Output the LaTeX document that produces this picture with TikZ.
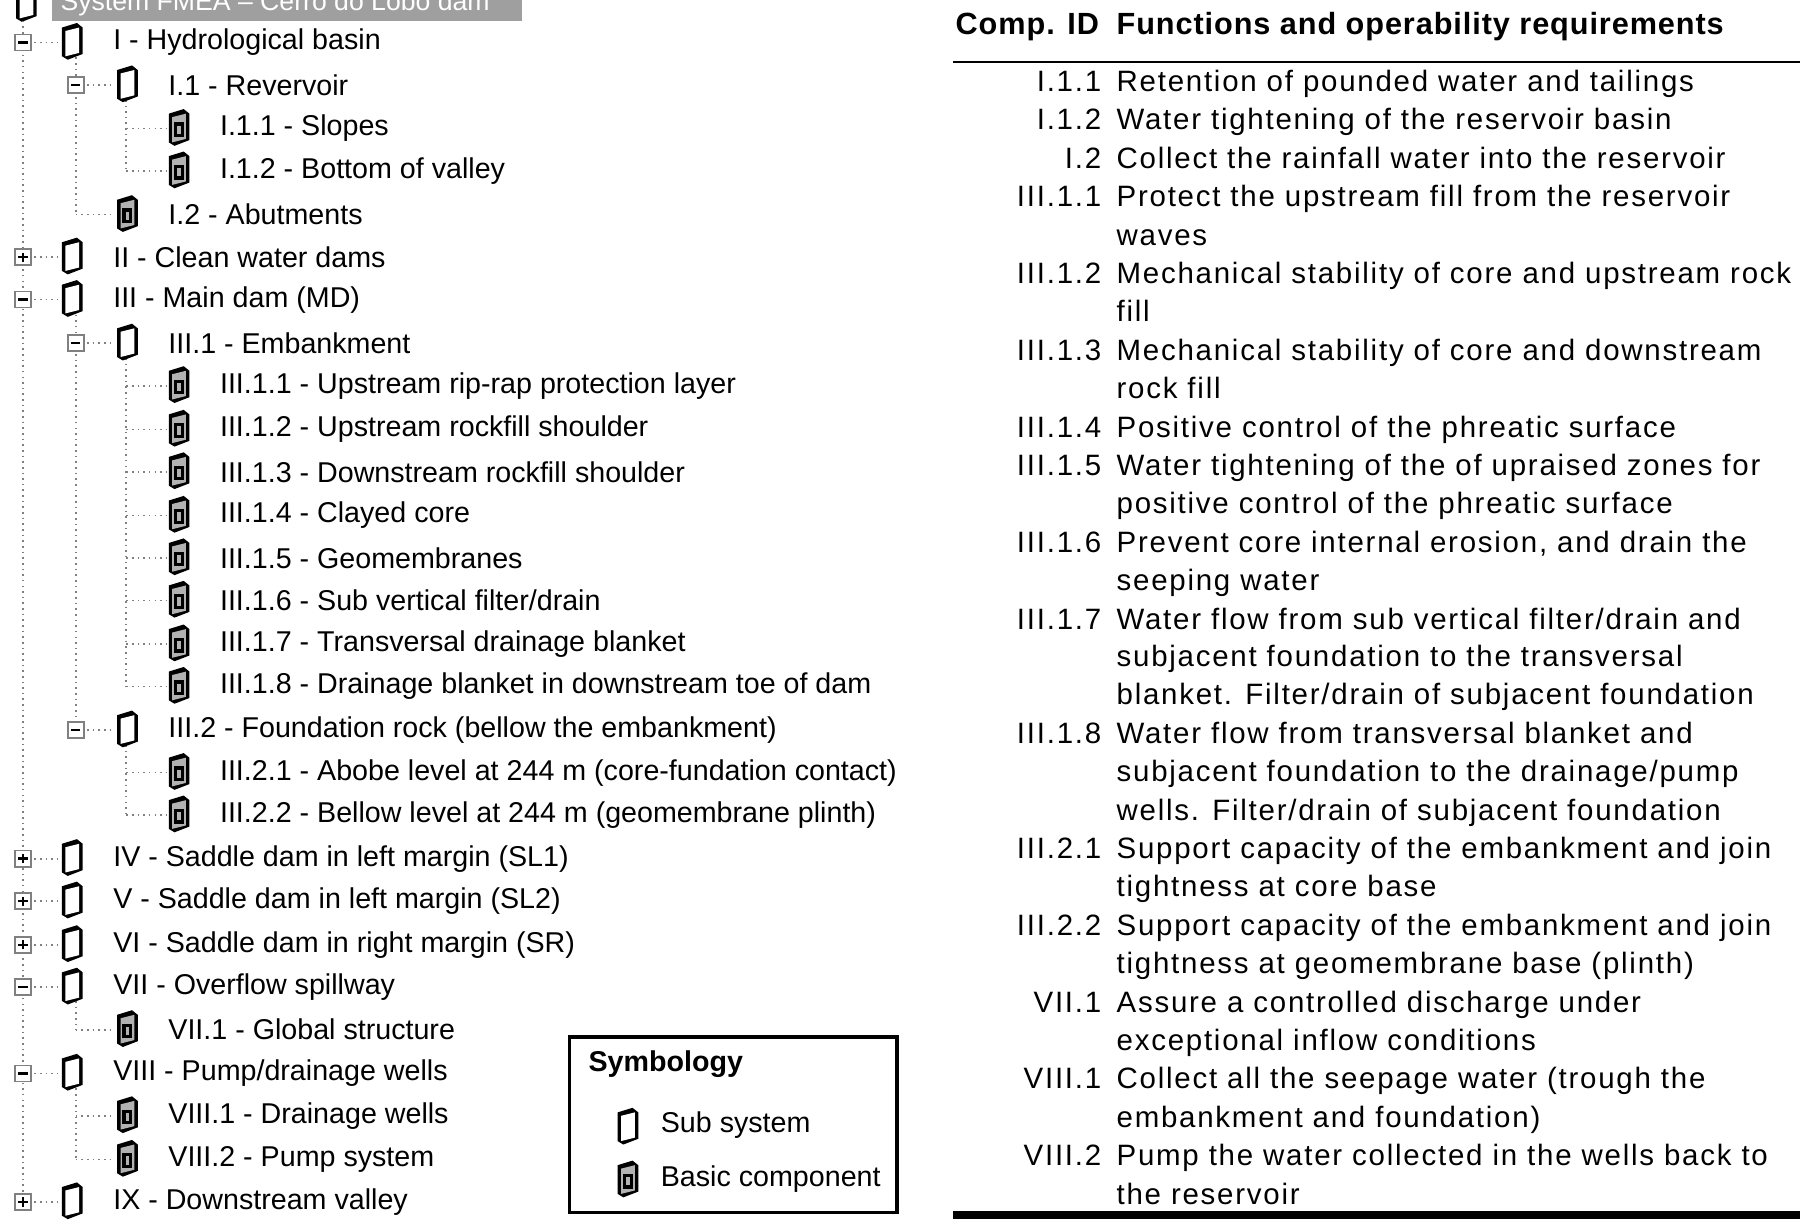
\documentclass[tikz,border=0pt]{standalone}
\usepackage{fontspec}
\setmainfont{Liberation Sans}
\newfontfamily\tabfont[LetterSpace=6]{Liberation Sans}
\newfontfamily\hdfont[LetterSpace=3]{Liberation Sans}
\begin{document}
\begin{tikzpicture}[x=0.1mm,y=-0.1mm,
  lbl/.style={anchor=west,inner sep=0pt,font=\fontsize{7.1pt}{9pt}\selectfont},
  tl/.style={anchor=base west,inner sep=0pt,font=\tabfont\fontsize{7.3pt}{9pt}\selectfont},
  tid/.style={anchor=base east,inner sep=0pt,font=\tabfont\fontsize{7.3pt}{9pt}\selectfont},
  dl/.style={gray,densely dotted,line width=0.4pt},
  subsys/.pic={\fill[black] (-8,-13)--(5,-17)--(10,-13)--(10,10)--(-3,15)--(-8,12)--cycle;
     \fill[white] (-5,-10)--(7,-13)--(7,9)--(-5,12)--cycle;},
  basic/.pic={\fill[black] (-8,-13)--(5,-17)--(10,-13)--(10,10)--(-3,15)--(-8,12)--cycle;
     \fill[gray!60] (-5,-10)--(7,-13)--(7,9)--(-5,12)--cycle;
     \draw[black,line width=0.8pt] (-2,-4) rectangle (4,6);},
  expm/.pic={\draw[gray,fill=white] (-7,-7) rectangle (7,7);\draw[black,line width=0.6pt](-4,0)--(4,0);},
  expp/.pic={\draw[gray,fill=white] (-7,-7) rectangle (7,7);\draw[black,line width=0.6pt](-4,0)--(4,0)(0,-4)--(0,4);}
]
\useasboundingbox (0,0) rectangle (1568,1066);
\begin{scope}
\clip (0,0) rectangle (1568,1066);
\fill[gray!75] (45,-20) rectangle (455,18);
\node[lbl,text=white,font=\fontsize{6.6pt}{9pt}\selectfont] (root) at (52,3) {System FMEA – Cerro do Lobo dam};
\pic at (22,4) {subsys};
\end{scope}
% tree lines
\draw[dl] (20,18)--(20,1040);
\draw[dl] (66,50)--(66,187) (110,87)--(110,149);
\draw[dl] (66,274)--(66,636) (110,312)--(110,598) (110,649)--(110,710);
\draw[dl] (66,872)--(66,897) (66,948)--(66,1010);
\foreach \y in {37,224,261,748,785,823,860,935,1047}{\draw[dl](20,\y)--(52,\y);}
\foreach \y in {74,187,299,636,897,972,1010}{\draw[dl](66,\y)--(100,\y);}
\foreach \y in {112,149,336,374,411,449,486,523,561,598,673,710}{\draw[dl](110,\y)--(145,\y);}
\newcommand{\trow}[5]{%
  \ifcase#2\or\def\ix{62}\or\def\ix{110}\or\def\ix{155}\fi
  \pic at (\ix,#1) {#3};
  \node[lbl] (#5) at (\ix+36,#1) {#4};}
\trow{37}{1}{subsys}{I - Hydrological basin}{n1}
\trow{74}{2}{subsys}{I.1 - Revervoir}{n11}
\trow{112}{3}{basic}{I.1.1 - Slopes}{n111}
\trow{149}{3}{basic}{I.1.2 - Bottom of valley}{n112}
\trow{187}{2}{basic}{I.2 - Abutments}{n12}
\trow{224}{1}{subsys}{II - Clean water dams}{n2}
\trow{261}{1}{subsys}{III - Main dam (MD)}{n3}
\trow{299}{2}{subsys}{III.1 - Embankment}{n31}
\trow{336}{3}{basic}{III.1.1 - Upstream rip-rap protection layer}{n311}
\trow{374}{3}{basic}{III.1.2 - Upstream rockfill shoulder}{n312}
\trow{411}{3}{basic}{III.1.3 - Downstream rockfill shoulder}{n313}
\trow{449}{3}{basic}{III.1.4 - Clayed core}{n314}
\trow{486}{3}{basic}{III.1.5 - Geomembranes}{n315}
\trow{523}{3}{basic}{III.1.6 - Sub vertical filter/drain}{n316}
\trow{561}{3}{basic}{III.1.7 - Transversal drainage blanket}{n317}
\trow{598}{3}{basic}{III.1.8 - Drainage blanket in downstream toe of dam}{n318}
\trow{636}{2}{subsys}{III.2 - Foundation rock (bellow the embankment)}{n32}
\trow{673}{3}{basic}{III.2.1 - Abobe level at 244 m (core-fundation contact)}{n321}
\trow{710}{3}{basic}{III.2.2 - Bellow level at 244 m (geomembrane plinth)}{n322}
\trow{748}{1}{subsys}{IV - Saddle dam in left margin (SL1)}{n4}
\trow{785}{1}{subsys}{V - Saddle dam in left margin (SL2)}{n5}
\trow{823}{1}{subsys}{VI - Saddle dam in right margin (SR)}{n6}
\trow{860}{1}{subsys}{VII - Overflow spillway}{n7}
\trow{897}{2}{basic}{VII.1 - Global structure}{n71}
\trow{935}{1}{subsys}{VIII - Pump/drainage wells}{n8}
\trow{972}{2}{basic}{VIII.1 - Drainage wells}{n81}
\trow{1010}{2}{basic}{VIII.2 - Pump system}{n82}
\trow{1047}{1}{subsys}{IX - Downstream valley}{n9}
\foreach \y in {37,261,860,935}{\pic at (20,\y) {expm};}
\foreach \y in {224,748,785,823,1047}{\pic at (20,\y) {expp};}
\foreach \y in {74,299,636}{\pic at (66,\y) {expm};}
% legend
\node[draw,line width=0.8pt,minimum width=285*0.1mm,minimum height=153*0.1mm,anchor=north west] (leg) at (495,902) {};
\node[lbl,font=\fontsize{7.1pt}{9pt}\selectfont\bfseries] (legt) at (512,927) {Symbology};
\pic at (546,982) {subsys};
\node[lbl] (ls) at (575,980) {Sub system};
\pic at (546,1028) {basic};
\node[lbl] (lb) at (575,1027) {Basic component};
% table
\node[tid,font=\hdfont\fontsize{7.6pt}{9pt}\selectfont\bfseries] (h1) at (958,30) {Comp. ID};
\node[tl,font=\hdfont\fontsize{7.6pt}{9pt}\selectfont\bfseries] (h2) at (972,30) {Functions and operability requirements};
\draw[line width=0.6pt] (830,54)--(1568,54);
\draw[line width=2pt] (830,1058)--(1568,1058);
\newcommand{\tid}[2]{\node[tid] at (960,#1) {#2};}
\newcommand{\ttx}[2]{\node[tl] at (972,#1) {#2};}
\def\ly#1{\the\numexpr 80+#1*334/10\relax}
\tid{\ly0}{I.1.1}\ttx{\ly0}{Retention of pounded water and tailings}
\tid{\ly1}{I.1.2}\ttx{\ly1}{Water tightening of the reservoir basin}
\tid{\ly2}{I.2}\ttx{\ly2}{Collect the rainfall water into the reservoir}
\tid{\ly3}{III.1.1}\ttx{\ly3}{Protect the upstream fill from the reservoir}
\ttx{\ly4}{waves}
\tid{\ly5}{III.1.2}\ttx{\ly5}{Mechanical stability of core and upstream rock}
\ttx{\ly6}{fill}
\tid{\ly7}{III.1.3}\ttx{\ly7}{Mechanical stability of core and downstream}
\ttx{\ly8}{rock fill}
\tid{\ly9}{III.1.4}\ttx{\ly9}{Positive control of the phreatic surface}
\tid{\ly{10}}{III.1.5}\ttx{\ly{10}}{Water tightening of the of upraised zones for}
\ttx{\ly{11}}{positive control of the phreatic surface}
\tid{\ly{12}}{III.1.6}\ttx{\ly{12}}{Prevent core internal erosion, and drain the}
\ttx{\ly{13}}{seeping water}
\tid{\ly{14}}{III.1.7}\ttx{\ly{14}}{Water flow from sub vertical filter/drain and}
\ttx{\ly{15}}{subjacent foundation to the transversal}
\ttx{\ly{16}}{blanket. Filter/drain of subjacent foundation}
\tid{\ly{17}}{III.1.8}\ttx{\ly{17}}{Water flow from transversal blanket and}
\ttx{\ly{18}}{subjacent foundation to the drainage/pump}
\ttx{\ly{19}}{wells. Filter/drain of subjacent foundation}
\tid{\ly{20}}{III.2.1}\ttx{\ly{20}}{Support capacity of the embankment and join}
\ttx{\ly{21}}{tightness at core base}
\tid{\ly{22}}{III.2.2}\ttx{\ly{22}}{Support capacity of the embankment and join}
\ttx{\ly{23}}{tightness at geomembrane base (plinth)}
\tid{\ly{24}}{VII.1}\ttx{\ly{24}}{Assure a controlled discharge under}
\ttx{\ly{25}}{exceptional inflow conditions}
\tid{\ly{26}}{VIII.1}\ttx{\ly{26}}{Collect all the seepage water (trough the}
\ttx{\ly{27}}{embankment and foundation)}
\tid{\ly{28}}{VIII.2}\ttx{\ly{28}}{Pump the water collected in the wells back to}
\ttx{\ly{29}}{the reservoir}
\end{tikzpicture}
\end{document}
